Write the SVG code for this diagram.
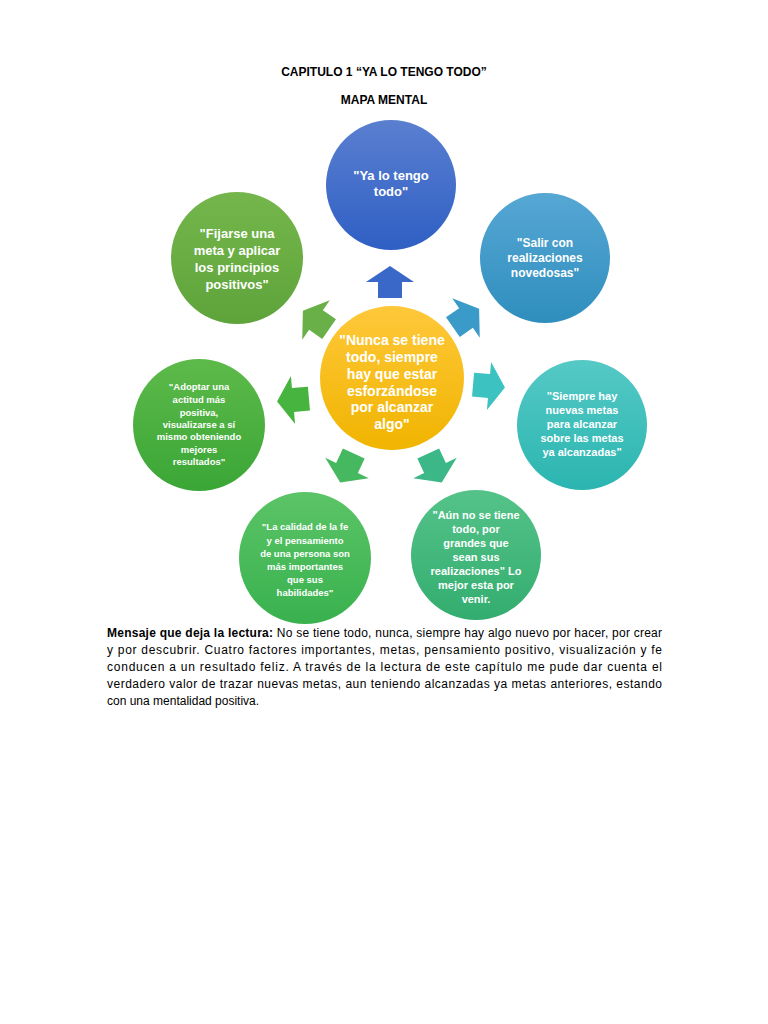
<svg xmlns="http://www.w3.org/2000/svg" width="768" height="1024" viewBox="0 0 768 1024">
<style>
text{font-family:"Liberation Sans",Arial,sans-serif}
.t{font-size:12px;font-weight:bold;text-anchor:middle}
.w{fill:#fff;font-weight:bold;text-anchor:middle}
.p{font-size:12px;fill:#000}
</style>
<defs>
<path id="arr" d="M-12,16 L12,16 L12,0 L24,0 L0,-16 L-24,0 L-12,0 Z"/>
<linearGradient id="gY" x1="0" y1="0" x2="0" y2="1"><stop offset="0" stop-color="#ffc83a"/><stop offset="1" stop-color="#f0b400"/></linearGradient>
<linearGradient id="gB" x1="0" y1="0" x2="0" y2="1"><stop offset="0" stop-color="#5a7fd0"/><stop offset="1" stop-color="#2f5fc4"/></linearGradient>
<linearGradient id="gSB" x1="0" y1="0" x2="0" y2="1"><stop offset="0" stop-color="#56a7d4"/><stop offset="1" stop-color="#2f8ebd"/></linearGradient>
<linearGradient id="gT" x1="0" y1="0" x2="0" y2="1"><stop offset="0" stop-color="#55c9c6"/><stop offset="1" stop-color="#2bb5b0"/></linearGradient>
<linearGradient id="gG1" x1="0" y1="0" x2="0" y2="1"><stop offset="0" stop-color="#74b64c"/><stop offset="1" stop-color="#5ea43a"/></linearGradient>
<linearGradient id="gG2" x1="0" y1="0" x2="0" y2="1"><stop offset="0" stop-color="#5dba4a"/><stop offset="1" stop-color="#3aa636"/></linearGradient>
<linearGradient id="gG3" x1="0" y1="0" x2="0" y2="1"><stop offset="0" stop-color="#5bc466"/><stop offset="1" stop-color="#39b14e"/></linearGradient>
<linearGradient id="gG4" x1="0" y1="0" x2="0" y2="1"><stop offset="0" stop-color="#55c389"/><stop offset="1" stop-color="#33ad6f"/></linearGradient>
</defs>
<text class="t" x="384" y="76">CAPITULO 1 “YA LO TENGO TODO”</text>
<text class="t" x="384" y="104">MAPA MENTAL</text>

<g id="connectors">
<use href="#arr" fill="#3a68c8" transform="translate(390,282)"/>
<use href="#arr" fill="#3a9ac8" transform="translate(466,318) rotate(55)"/>
<use href="#arr" fill="#3cc2c0" transform="translate(489,386) rotate(95)"/>
<use href="#arr" fill="#3cb888" transform="translate(435,468) rotate(155)"/>
<use href="#arr" fill="#45b860" transform="translate(347,468) rotate(205)"/>
<use href="#arr" fill="#48b440" transform="translate(293,400) rotate(265)"/>
<use href="#arr" fill="#6ab048" transform="translate(316,320) rotate(305)"/>
</g>

<g id="center"><circle cx="392" cy="378" r="72" fill="url(#gY)"/>
<text class="w" font-size="14"><tspan x="392" y="345">"Nunca se tiene</tspan><tspan x="392" y="362">todo, siempre</tspan><tspan x="392" y="379">hay que estar</tspan><tspan x="392" y="396">esforzándose</tspan><tspan x="392" y="412">por alcanzar</tspan><tspan x="392" y="429">algo"</tspan></text></g>

<g id="n1"><circle cx="391" cy="185" r="65" fill="url(#gB)"/>
<text class="w" font-size="13"><tspan x="391" y="180">"Ya lo tengo</tspan><tspan x="391" y="196">todo"</tspan></text></g>

<g id="n2"><circle cx="545" cy="258" r="65" fill="url(#gSB)"/>
<text class="w" font-size="12"><tspan x="545" y="247">"Salir con</tspan><tspan x="545" y="262">realizaciones</tspan><tspan x="545" y="277">novedosas"</tspan></text></g>

<g id="n3"><circle cx="582" cy="425" r="65" fill="url(#gT)"/>
<text class="w" font-size="11"><tspan x="582" y="400">"Siempre hay</tspan><tspan x="582" y="414">nuevas metas</tspan><tspan x="582" y="428">para alcanzar</tspan><tspan x="582" y="442">sobre las metas</tspan><tspan x="582" y="456">ya alcanzadas"</tspan></text></g>

<g id="n4"><circle cx="476" cy="555" r="65" fill="url(#gG4)"/>
<text class="w" font-size="11"><tspan x="476" y="519">"Aún no se tiene</tspan><tspan x="476" y="533">todo, por</tspan><tspan x="476" y="547">grandes que</tspan><tspan x="476" y="561">sean sus</tspan><tspan x="476" y="575">realizaciones" Lo</tspan><tspan x="476" y="589">mejor esta por</tspan><tspan x="476" y="603">venir.</tspan></text></g>

<g id="n5"><circle cx="305" cy="558" r="66" fill="url(#gG3)"/>
<text class="w" font-size="9.5" font-weight="normal"><tspan x="305" y="530">"La calidad de la fe</tspan><tspan x="305" y="544">y el pensamiento</tspan><tspan x="305" y="557">de una persona son</tspan><tspan x="305" y="570">más importantes</tspan><tspan x="305" y="583">que sus</tspan><tspan x="305" y="596">habilidades"</tspan></text></g>

<g id="n6"><circle cx="199" cy="425" r="66" fill="url(#gG2)"/>
<text class="w" font-size="9.5"><tspan x="199" y="390">"Adoptar una</tspan><tspan x="199" y="403">actitud más</tspan><tspan x="199" y="416">positiva,</tspan><tspan x="199" y="428">visualizarse a sí</tspan><tspan x="199" y="440">mismo obteniendo</tspan><tspan x="199" y="453">mejores</tspan><tspan x="199" y="465">resultados"</tspan></text></g>

<g id="n7"><circle cx="237" cy="258" r="66" fill="url(#gG1)"/>
<text class="w" font-size="13"><tspan x="237" y="238">"Fijarse una</tspan><tspan x="237" y="255">meta y aplicar</tspan><tspan x="237" y="272">los principios</tspan><tspan x="237" y="289">positivos"</tspan></text></g>

<text class="p"><tspan x="107" y="637" textLength="555" lengthAdjust="spacing"><tspan font-weight="bold">Mensaje que deja la lectura:</tspan> No se tiene todo, nunca, siempre hay algo nuevo por hacer, por crear</tspan><tspan x="107" y="654" textLength="555" lengthAdjust="spacing">y por descubrir. Cuatro factores importantes, metas, pensamiento positivo, visualización y fe</tspan><tspan x="107" y="671" textLength="555" lengthAdjust="spacing">conducen a un resultado feliz. A través de la lectura de este capítulo me pude dar cuenta el</tspan><tspan x="107" y="688" textLength="555" lengthAdjust="spacing">verdadero valor de trazar nuevas metas, aun teniendo alcanzadas ya metas anteriores, estando</tspan><tspan x="107" y="705">con una mentalidad positiva.</tspan></text>
</svg>
